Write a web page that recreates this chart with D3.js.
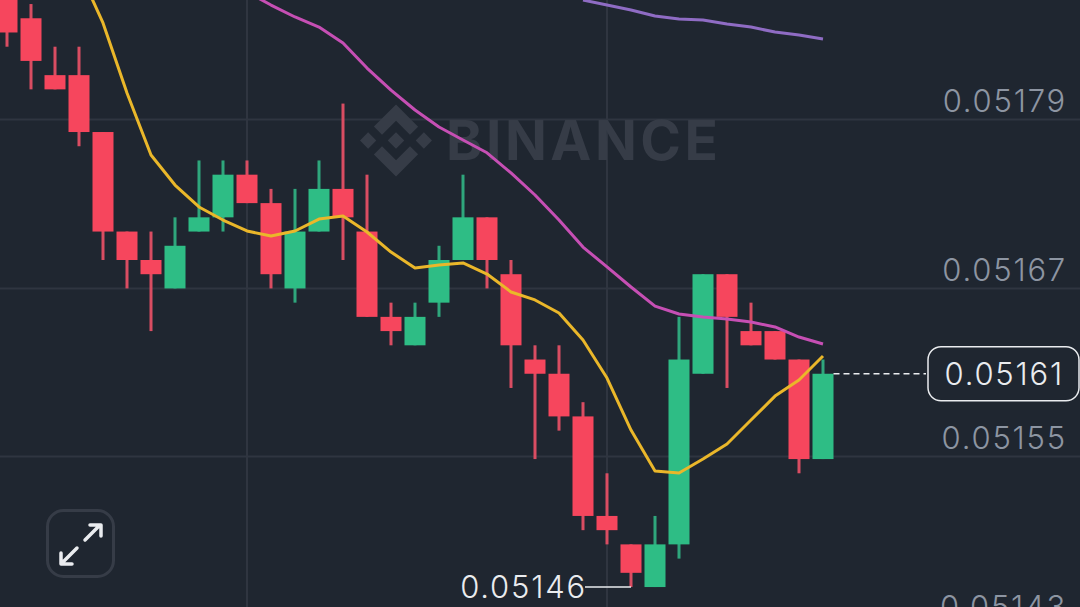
<!DOCTYPE html>
<html>
<head>
<meta charset="utf-8">
<title>Candles</title>
<script src="https://cdn.jsdelivr.net/npm/d3@7"></script>
<style>
  html, body { margin: 0; padding: 0; background: #1f2630; overflow: hidden; }
  svg { display: block; }
  text { font-family: "Inter", "Noto Sans", sans-serif; }
  .num { letter-spacing: 1.8px; font-weight: 300; }
</style>
</head>
<body>
<div id="chart"></div>
<script>
// candle values, left to right
var opens = [0.05188,0.05186,0.05182,0.05182,0.05178,0.05171,0.05169,0.05167,0.05171,0.05172,0.05175,0.05173,0.05167,0.05171,0.05174,0.05171,0.05165,0.05163,0.05166,0.05169,0.05172,0.05168,0.05162,0.05161,0.05158,0.05151,0.05149,0.05146,0.05149,0.05161,0.05168,0.05164,0.05164,0.05162,0.05155]
var closes = [0.05185,0.05183,0.05181,0.05178,0.05171,0.05169,0.05168,0.05170,0.05172,0.05175,0.05173,0.05168,0.05171,0.05174,0.05172,0.05165,0.05164,0.05165,0.05169,0.05172,0.05169,0.05163,0.05161,0.05158,0.05151,0.05150,0.05147,0.05149,0.05162,0.05168,0.05165,0.05163,0.05162,0.05155,0.05161]
var highs = [0.05188,0.05187,0.05184,0.05184,0.05178,0.05171,0.05171,0.05172,0.05176,0.05176,0.05176,0.05174,0.05174,0.05176,0.05180,0.05175,0.05166,0.05166,0.05170,0.05175,0.05172,0.05169,0.05163,0.05163,0.05159,0.05154,0.05149,0.05151,0.05165,0.05168,0.05168,0.05166,0.05164,0.05162,0.05162]
var lows = [0.05184,0.05181,0.05181,0.05177,0.05169,0.05167,0.05164,0.05167,0.05171,0.05171,0.05173,0.05167,0.05166,0.05171,0.05169,0.05165,0.05163,0.05163,0.05165,0.05169,0.05167,0.05160,0.05155,0.05157,0.05150,0.05149,0.05146,0.05146,0.05148,0.05161,0.05160,0.05163,0.05162,0.05154,0.05155]

// moving averages, each ends on the last candle
var ma_short = [0.0518939,0.0518567,0.0518074,0.0517638,0.0517427,0.0517273,0.0517181,0.0517104,0.0517069,0.0517104,0.0517188,0.0517209,0.0517097,0.0516956,0.0516844,0.0516865,0.0516879,0.0516801,0.0516675,0.0516619,0.0516527,0.0516337,0.051607,0.0515704,0.0515416,0.0515402,0.05155,0.0515606,0.0515775,0.0515943,0.0516056,0.0516225]
var ma_mid = [0.0518785,0.0518693,0.0518609,0.0518538,0.0518426,0.051825,0.0518095,0.0517955,0.0517835,0.0517744,0.0517654,0.0517512,0.0517357,0.0517181,0.0516991,0.0516851,0.051671,0.0516576,0.051652,0.0516499,0.0516485,0.0516464,0.0516429,0.0516358,0.0516309]
var ma_long = [0.0518728,0.0518693,0.0518658,0.0518616,0.0518595,0.0518588,0.051856,0.0518538,0.0518503,0.0518482,0.0518454]

// grid levels sit between round prices, the labels round them to 5 places
var price_ticks = [0.0514336,0.0515521,0.0516703,0.0517891]
var time_grid = [10,25]
var low_label = 0.05146
var last_price = 0.05161

var width = 1080
var height = 607
var body_w = 21
var wick_w = 3
var up_color = "#2ebd85"
var down_color = "#f6465d"
var fmt = d3.format(".5f")

var x = d3.scaleLinear().domain([0,34]).range([7,823])
var y = d3.scaleLinear().domain([0.05143,0.05179]).range([629.7,117.8])

var svg = d3.select("#chart")
  .append("svg")
  .attr("width", width)
  .attr("height", height)

// grid
svg.append("g")
  .attr("class", "h-grid")
  .call(d3.axisRight(y).tickValues(price_ticks).tickSize(width).tickFormat(""))
  .call(function(g){ g.select(".domain").remove() })
  .selectAll("line").attr("stroke", "#2f3540").attr("stroke-width", 2)

svg.append("g")
  .attr("class", "v-grid")
  .selectAll("line")
  .data(time_grid)
  .enter()
  .append("line")
  .attr("x1", function(d){ return x(d) })
  .attr("x2", function(d){ return x(d) })
  .attr("y1", 0)
  .attr("y2", height)
  .attr("stroke", "#2f3540")
  .attr("stroke-width", 2)

// watermark
var mark = svg.append("g").attr("class", "watermark").attr("fill", "#363c47")
mark.append("path")
  .attr("transform", "translate(360,104.5) scale(0.5687)")
  .attr("d", "M38.73 53.2l24.59-24.58 24.6 24.6 14.3-14.31L63.32 0 24.42 38.9zM0 63.31l14.3-14.31 14.31 14.31-14.31 14.3zM38.73 73.41l24.59 24.59 24.6-24.6 14.31 14.29-38.9 38.91-38.91-38.88-.02-.02zM98 63.31l14.3-14.3 14.31 14.3-14.31 14.31zM77.83 63.3L63.32 48.78 52.59 59.51l-1.24 1.23-2.54 2.54 14.51 14.5 14.51-14.47z")
mark.append("text")
  .attr("x", 446)
  .attr("y", 160)
  .attr("font-size", 55)
  .attr("font-weight", 700)
  .attr("textLength", 272)
  .attr("lengthAdjust", "spacing")
  .text("BINANCE")

// candles
var candles = svg.append("g").attr("class", "candles")
  .selectAll("g")
  .data(opens.map(function(d, i){ return { i: i, open: d, close: closes[i], high: highs[i], low: lows[i] } }))
  .enter()
  .append("g")

candles.append("rect")
  .attr("x", function(d){ return x(d.i) - wick_w / 2 })
  .attr("width", wick_w)
  .attr("y", function(d){ return y(d.high) })
  .attr("height", function(d){ return y(d.low) - y(d.high) })
  .attr("fill", function(d){ return d.close > d.open ? "#2fa67c" : "#d94d62" })

candles.append("rect")
  .attr("x", function(d){ return x(d.i) - body_w / 2 })
  .attr("width", body_w)
  .attr("y", function(d){ return y(Math.max(d.open, d.close)) })
  .attr("height", function(d){ return Math.abs(y(d.open) - y(d.close)) })
  .attr("fill", function(d){ return d.close > d.open ? up_color : down_color })

// moving average lines
function draw_ma(values, color) {
  var first = 34 - values.length + 1
  var line = d3.line()
    .x(function(d, i){ return x(first + i) })
    .y(function(d){ return y(d) })
  svg.append("path")
    .datum(values)
    .attr("d", line)
    .attr("fill", "none")
    .attr("stroke", color)
    .attr("stroke-width", 3)
    .attr("stroke-linejoin", "round")
}
draw_ma(ma_long, "#8f6cc4")
draw_ma(ma_mid, "#c64fb4")
draw_ma(ma_short, "#eab72a")

// price labels
svg.append("g")
  .attr("class", "price-labels")
  .selectAll("text")
  .data(price_ticks)
  .enter()
  .append("text")
  .attr("class", "num")
  .attr("x", 1067)
  .attr("y", function(d){ return y(d) - 7 })
  .attr("text-anchor", "end")
  .attr("font-size", 31)
  .attr("fill", "#8d95a2")
  .text(fmt)

// lowest price marker
svg.append("line")
  .attr("x1", 585)
  .attr("x2", x(26))
  .attr("y1", y(low_label))
  .attr("y2", y(low_label))
  .attr("stroke", "#eaecef")
  .attr("stroke-width", 1.5)
svg.append("text")
  .attr("class", "num")
  .attr("x", 587)
  .attr("y", y(low_label) + 11)
  .attr("text-anchor", "end")
  .attr("font-size", 31)
  .attr("fill", "#eaecef")
  .text(fmt(low_label))

// last price
svg.append("line")
  .attr("x1", x(34) + body_w / 2)
  .attr("x2", 926)
  .attr("y1", y(last_price))
  .attr("y2", y(last_price))
  .attr("stroke", "#eaecef")
  .attr("stroke-width", 1.5)
  .attr("stroke-dasharray", "6 4")
svg.append("rect")
  .attr("x", 928)
  .attr("y", y(last_price) - 27)
  .attr("width", 151)
  .attr("height", 54)
  .attr("rx", 13)
  .attr("fill", "#1f2630")
  .attr("stroke", "#eaecef")
  .attr("stroke-width", 1.5)
svg.append("text")
  .attr("class", "num")
  .attr("x", 1064)
  .attr("y", y(last_price) + 11)
  .attr("text-anchor", "end")
  .attr("font-size", 31)
  .attr("fill", "#eaecef")
  .text(fmt(last_price))

// expand button
var btn = svg.append("g").attr("class", "expand")
btn.append("rect")
  .attr("x", 47.5)
  .attr("y", 510.5)
  .attr("width", 66)
  .attr("height", 66)
  .attr("rx", 16)
  .attr("fill", "none")
  .attr("stroke", "#363c47")
  .attr("stroke-width", 3)
btn.append("path")
  .attr("d", "M85 540L100 525M90 525H101V536M77 548L62 563M61 553V564H72")
  .attr("fill", "none")
  .attr("stroke", "#eaecef")
  .attr("stroke-width", 3.5)
  .attr("stroke-linecap", "round")
  .attr("stroke-linejoin", "round")
</script>
</body>
</html>
